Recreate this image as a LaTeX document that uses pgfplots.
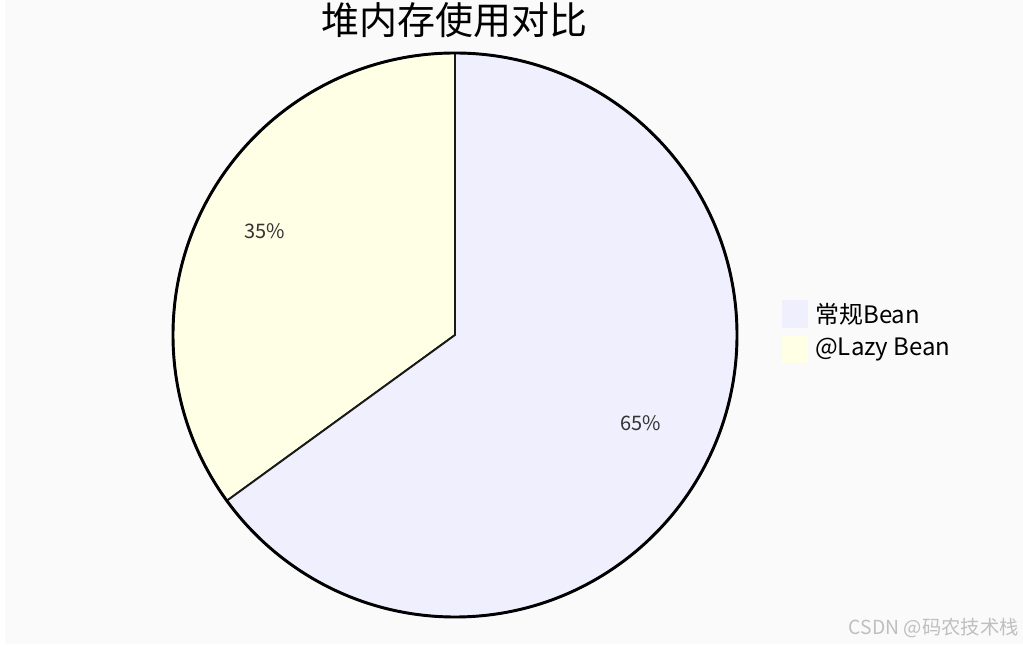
\documentclass[border=0pt]{standalone}
\usepackage{pgfplots}
\usepackage{pgfplotstable}
\pgfplotsset{compat=1.18}
\usetikzlibrary{calc}
\usepackage{fontspec}
\setmainfont{Noto Sans CJK SC}

\definecolor{bgc}{HTML}{FAFAFA}
\definecolor{pieA}{HTML}{EFEFFD}
\definecolor{pieB}{HTML}{FFFFE6}
\definecolor{txt}{HTML}{333333}

% share of heap memory, percent
\pgfplotstableread{
name value
regular 65
lazy 35
}\piedata

\begin{document}
\begin{tikzpicture}
\pgfplotstablegetelem{0}{value}\of\piedata \let\va\pgfplotsretval
\pgfplotstablegetelem{1}{value}\of\piedata \let\vb\pgfplotsretval
\begin{axis}[
  at={(0,0)}, anchor=south west,
  width=767.25pt, height=484.5pt, scale only axis,
  xmin=0, xmax=1023, ymin=0, ymax=646,
  hide axis, clip=false,
]
% background
\fill[bgc] (axis cs:5,2) rectangle (axis cs:1023,646);
% slices, pixel units: centre (455,311), radius 282px = 211.5pt
\pgfmathsetmacro\sb{90}
\pgfmathsetmacro\eb{90+3.6*\vb}
\pgfmathsetmacro\ea{\eb+3.6*\va}
\filldraw[fill=pieB, draw=black!90, line width=1.4pt]
  (axis cs:455,311) -- ++(\sb:211.5pt) arc[start angle=\sb, end angle=\eb, radius=211.5pt] -- cycle;
\filldraw[fill=pieA, draw=black!90, line width=1.4pt]
  (axis cs:455,311) -- ++(\eb:211.5pt) arc[start angle=\eb, end angle=\ea, radius=211.5pt] -- cycle;
\draw[black, line width=2.2pt] (axis cs:455,311) circle[radius=211.5pt];
% percent labels
\pgfmathsetmacro\ma{(\eb+\ea)/2}
\pgfmathsetmacro\mb{(\sb+\eb)/2}
\node[txt, font=\fontsize{15}{17}\selectfont] at ($(axis cs:455,311)+(\ma:156pt)+(0,5pt)$) {\va\%};
\node[txt, font=\fontsize{15}{17}\selectfont] at ($(axis cs:455,311)+(\mb:160pt)+(0,5pt)$) {\vb\%};
% title
\node[black, font=\fontsize{28.5}{32}\selectfont] at (axis cs:454,626) {堆内存使用对比};
% legend
\fill[pieA] (axis cs:782,318) rectangle (axis cs:808,346);
\fill[pieB] (axis cs:782,283) rectangle (axis cs:808,310);
\node[black, anchor=west, inner sep=0pt, font=\fontsize{18}{20}\selectfont] at (axis cs:815,332) {常规Bean};
\node[black, anchor=west, inner sep=0pt, font=\fontsize{18}{20}\selectfont] at (axis cs:815,296) {@Lazy Bean};
% watermark
\node[black!25, anchor=east, inner sep=0pt, font=\fontsize{14.5}{16}\selectfont] at (axis cs:1019,18) {CSDN @码农技术栈};
\end{axis}
\pgfresetboundingbox
\path[use as bounding box] (0,0) rectangle (767.25pt,484.5pt);
\end{tikzpicture}
\end{document}
